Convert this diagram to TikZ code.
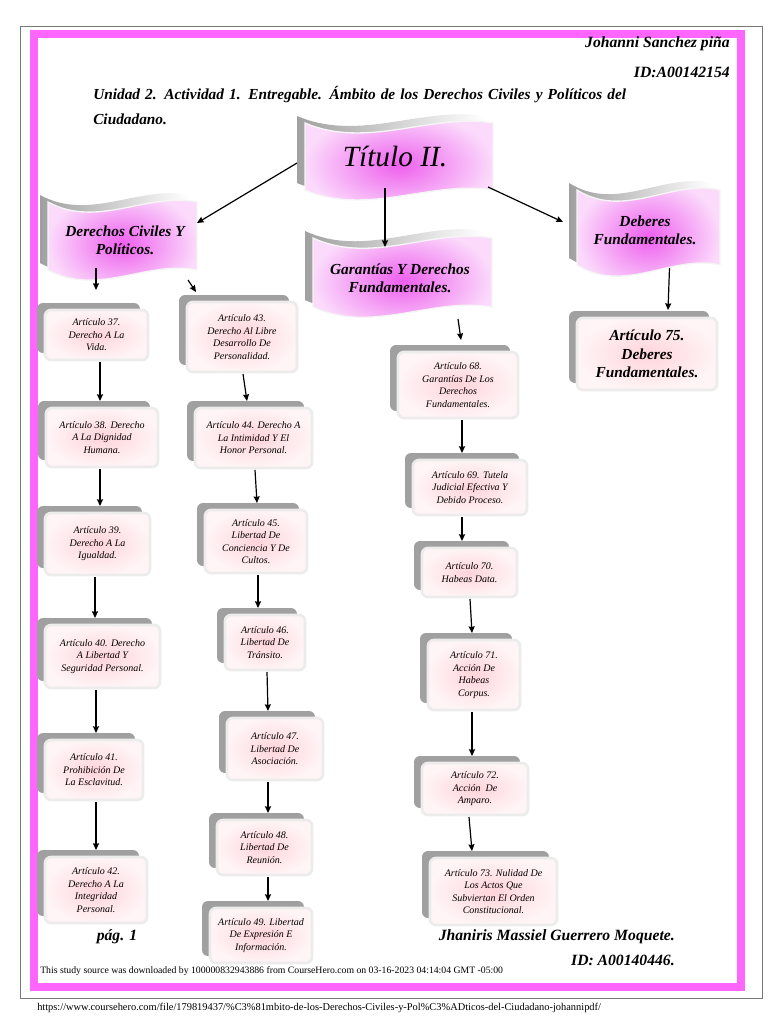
\documentclass[tikz,border=0pt]{standalone}
\usepackage{fontspec}
\setmainfont{Liberation Serif}
\usetikzlibrary{arrows.meta,calc,shadows,backgrounds}
\definecolor{pinkframe}{RGB}{255,102,255}
\definecolor{framegray}{RGB}{120,120,120}
\definecolor{flagin}{RGB}{238,95,238}
\definecolor{flagout}{RGB}{251,218,251}
\definecolor{flagshadow}{RGB}{160,160,160}
\definecolor{boxin}{RGB}{255,212,218}
\definecolor{boxout}{RGB}{255,244,246}
\definecolor{boxedge}{RGB}{236,236,236}
\definecolor{boxshadow}{RGB}{160,160,160}
% flag: #1 node, #2 style, #3 dx, #4 dy (px, down positive), #5 width, #6 height (px)
\newcommand\drawflag[6]{%
 \path[#2] let \p0=(#1.center),
   \p1=({\x0+(#3-#5/2)*0.75pt},{\y0-(#4+#6/2)*0.75pt}),
   \p2=({\x0+(#3+#5/2)*0.75pt},{\y0-(#4-#6/2)*0.75pt}) in
  (\x1,\y2) .. controls ({\x1+(\x2-\x1)/3},{\y2-0.4*(\y2-\y1)}) and ({\x1+2*(\x2-\x1)/3},{\y2+0.15*(\y2-\y1)}) .. (\x2,\y2)
  -- (\x2,\y1) .. controls ({\x1+2*(\x2-\x1)/3},{\y1+0.15*(\y2-\y1)}) and ({\x1+(\x2-\x1)/3},{\y1-0.4*(\y2-\y1)}) .. (\x1,\y1) -- cycle;}
\newcommand\link[4]{\draw[arr] ($(#1.south)+(#2,2)$) -- ($(#3.north)+(#4,-7)$);}
\begin{document}
\begin{tikzpicture}[x=0.75pt,y=-0.75pt,
  arr/.style={line width=0.9pt,-{Stealth[length=5pt,width=4.5pt,inset=0.5pt]}},
  bantext/.style={font=\bfseries\itshape\fontsize{11.5}{13.5}\selectfont, align=center, inner sep=0pt, outer sep=0pt},
  artbox/.style={rounded corners=4.5pt, shading=radial, inner color=boxin, outer color=boxout,
     draw=boxedge, line width=2pt, align=center, inner sep=2pt, outer sep=0pt,
     font=\itshape\fontsize{7.5}{9.4}\selectfont,
     drop shadow={shadow xshift=-6pt, shadow yshift=5.25pt, fill=boxshadow, opacity=1}},
  flagfront/.style={shading=radial, inner color=flagin, outer color=flagout, draw=white!92!gray, line width=1pt},
  flagback/.style={left color=flagshadow, middle color=flagshadow!75, right color=white},
  hdr/.style={font=\bfseries\itshape\fontsize{11.75}{13}\selectfont, inner sep=0pt}
]
\useasboundingbox (0,0) rectangle (768,1024);
% frame
\draw[framegray, line width=0.75pt] (20,27) rectangle (762,998);
\draw[pinkframe, line width=6pt] (34,34) rectangle (741,987);
% header
\node[hdr, anchor=east] (h1) at (730,44) {Johanni Sanchez piña};
\node[hdr, anchor=east] (h2) at (730,72) {ID:A00142154};
\node[hdr, anchor=north west, text width=402.75pt, align=left, font=\bfseries\itshape\fontsize{11.5}{18.75}\selectfont] (h3) at (93,86)
  {\makebox[402.75pt][s]{Unidad 2. Actividad 1. Entregable. Ámbito de los Derechos Civiles y Políticos del}\\Ciudadano.};
% banner texts
\node[bantext, font=\itshape\fontsize{22}{24}\selectfont] (tit) at (395,157) {Título II.};
\node[bantext] (dcp) at (125,240.5) {Derechos Civiles Y\\Políticos.};
\node[bantext] (gar) at (400,278) {Garantías Y Derechos\\Fundamentales.};
\node[bantext] (deb) at (645,230) {Deberes\\Fundamentales.};
% column 1
\node[artbox, minimum width=77.25pt, minimum height=37.5pt] (a37) at (96.5,335) {Artículo 37.\\Derecho A La\\Vida.};
\node[artbox, minimum width=84pt, minimum height=44.25pt] (a38) at (102,437.5) {Artículo 38. Derecho\\A La Dignidad\\Humana.};
\node[artbox, minimum width=78.75pt, minimum height=46.5pt] (a39) at (97.5,544) {Artículo 39.\\Derecho A La\\Igualdad.};
\node[artbox, minimum width=86.25pt, minimum height=47.25pt] (a40) at (102.5,656.5) {Artículo 40. Derecho\\A Libertad Y\\Seguridad Personal.};
\node[artbox, minimum width=73.5pt, minimum height=45pt] (a41) at (94,770) {Artículo 41.\\Prohibición De\\La Esclavitud.};
\node[artbox, minimum width=76.5pt, minimum height=49.5pt] (a42) at (96,890) {Artículo 42.\\Derecho A La\\Integridad\\Personal.};
% column 2
\node[artbox, minimum width=82.5pt, minimum height=52.5pt] (a43) at (242,337) {Artículo 43.\\Derecho Al Libre\\Desarrollo De\\Personalidad.};
\node[artbox, minimum width=87.75pt, minimum height=45pt] (a44) at (253.5,438) {Artículo 44. Derecho A\\La Intimidad Y El\\Honor Personal.};
\node[artbox, minimum width=76.5pt, minimum height=47.25pt] (a45) at (256,541.5) {Artículo 45.\\Libertad De\\Conciencia Y De\\Cultos.};
\node[artbox, minimum width=60pt, minimum height=41.25pt] (a46) at (265,642.5) {Artículo 46.\\Libertad De\\Tránsito.};
\node[artbox, minimum width=72pt, minimum height=46.5pt] (a47) at (275,749) {Artículo 47.\\Libertad De\\Asociación.};
\node[artbox, minimum width=71.25pt, minimum height=41.25pt] (a48) at (264.5,847.5) {Artículo 48.\\Libertad De\\Reunión.};
\node[artbox, minimum width=76.5pt, minimum height=41.25pt] (a49) at (261,935.5) {Artículo 49. Libertad\\De Expresión E\\Información.};
% column 3
\node[artbox, minimum width=90pt, minimum height=49.5pt] (a68) at (458,385) {Artículo 68.\\Garantías De Los\\Derechos\\Fundamentales.};
\node[artbox, minimum width=85.5pt, minimum height=41.25pt] (a69) at (470,487.5) {Artículo 69. Tutela\\Judicial Efectiva Y\\Debido Proceso.};
\node[artbox, minimum width=71.25pt, minimum height=36.75pt] (a70) at (469.5,572.5) {Artículo 70.\\Habeas Data.};
\node[artbox, minimum width=69pt, minimum height=52.5pt] (a71) at (474,675) {Artículo 71.\\Acción De\\Habeas\\Corpus.};
\node[artbox, minimum width=79.5pt, minimum height=39pt] (a72) at (475,789) {Artículo 72.\\Acción \ De\\Amparo.};
\node[artbox, minimum width=95.25pt, minimum height=50.25pt] (a73) at (493.5,891.5) {Artículo 73. Nulidad De\\Los Actos Que\\Subviertan El Orden\\Constitucional.};
% column 4
\node[artbox, minimum width=105pt, minimum height=54pt, font=\bfseries\itshape\fontsize{11.5}{14}\selectfont] (a75) at (647,354) {Artículo 75.\\Deberes\\Fundamentales.};
% flags on background
\begin{pgfonlayer}{background}
 \fill[white] (0,0) rectangle (768,1024);
 \drawflag{tit}{flagback}{-4}{-7.5}{188}{67}
 \drawflag{tit}{flagfront}{4}{-0.5}{188}{67}
 \drawflag{dcp}{flagback}{-10.5}{-11.5}{149}{68}
 \drawflag{dcp}{flagfront}{-2.5}{-4.5}{149}{68}
 \drawflag{gar}{flagback}{-5.5}{-12.5}{179}{69}
 \drawflag{gar}{flagfront}{2.5}{-5.5}{179}{69}
 \drawflag{deb}{flagback}{-4.5}{-9.5}{143}{75}
 \drawflag{deb}{flagfront}{3.5}{-2.5}{143}{75}
\end{pgfonlayer}
% connectors
\draw[arr] ($(tit.center)+(-98,6)$) -- ($(dcp.center)+(72,-17.5)$);
\draw[arr] ($(tit.center)+(-10,31)$) -- ($(gar.center)+(-15,-31)$);
\draw[arr] ($(tit.center)+(93,30)$) -- ($(deb.center)+(-82,-8)$);
\draw[arr] ($(dcp.center)+(-29,27.5)$) -- ($(a37.north)+(-0.5,-20)$);
\draw[arr] ($(dcp.center)+(63,39.5)$) -- ($(a43.north west)+(9,-10)$);
\draw[arr] ($(gar.center)+(58,41)$) -- ($(a68.north)+(3,-12)$);
\draw[arr] ($(deb.center)+(24.5,38)$) -- ($(a75.north)+(21,-8)$);
\link{a37}{3.5}{a38}{-2}
\link{a38}{-2}{a39}{2.5}
\link{a39}{-2.5}{a40}{-7.5}
\link{a40}{-6.5}{a41}{2}
\link{a41}{2}{a42}{0}
\link{a43}{1}{a44}{-6.5}
\link{a44}{1.5}{a45}{1}
\link{a45}{2}{a46}{-7}
\link{a46}{2}{a47}{-7}
\link{a47}{-7}{a48}{3.5}
\link{a48}{3.5}{a49}{7}
\link{a68}{4}{a69}{-8}
\link{a69}{-8}{a70}{-7.5}
\link{a70}{0.5}{a71}{-2}
\link{a71}{-2}{a72}{-3}
\link{a72}{-6}{a73}{-21.5}
% footer
\node[hdr] (pag) at (117,937) {pág. 1};
\node[hdr, anchor=east] (jh) at (675,937) {Jhaniris Massiel Guerrero Moquete.};
\node[hdr, anchor=east] (id2) at (675,960) {ID: A00140446.};
\node[anchor=west, inner sep=0pt, font=\fontsize{7.3}{8}\selectfont] (study) at (40,971) {This study source was downloaded by 100000832943886 from CourseHero.com on 03-16-2023 04:14:04 GMT -05:00};
\node[anchor=west, inner sep=0pt, font=\fontsize{7.8}{9}\selectfont] (url) at (37,1008) {https://www.coursehero.com/file/179819437/\%C3\%81mbito-de-los-Derechos-Civiles-y-Pol\%C3\%ADticos-del-Ciudadano-johannipdf/};
\end{tikzpicture}
\end{document}
